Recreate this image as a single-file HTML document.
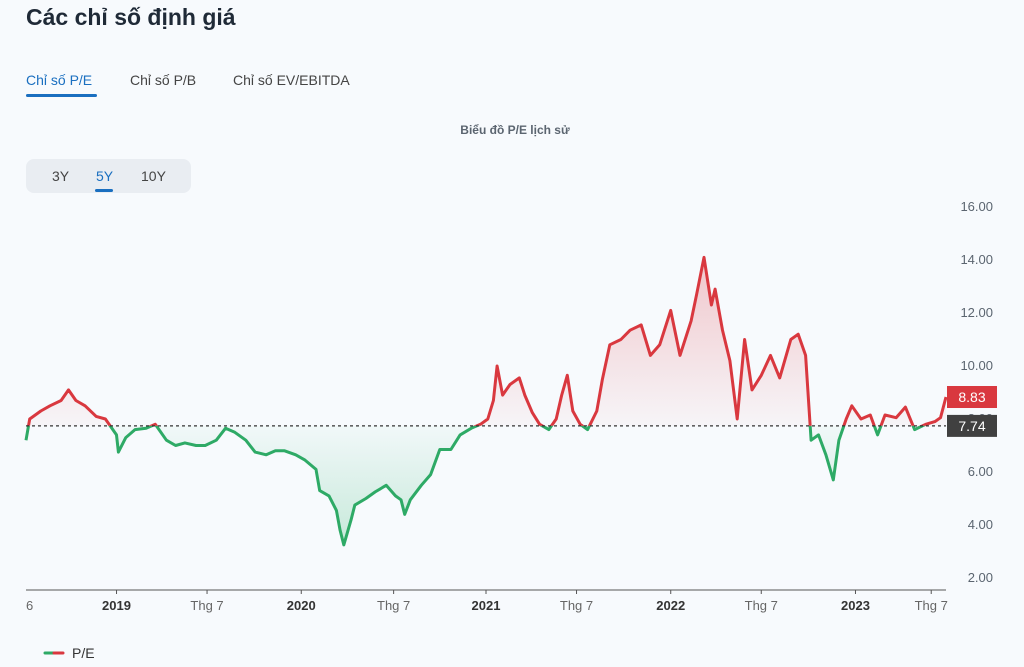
<!DOCTYPE html>
<html><head><meta charset="utf-8"><style>
body{margin:0;background:#f7fafd;font-family:"Liberation Sans","Noto Sans CJK SC",sans-serif;width:1024px;height:667px;overflow:hidden;position:relative}
.abs{position:absolute}
</style></head><body>
<div class="abs" style="left:26px;top:4px;font-size:23px;font-weight:bold;color:#1f2a37">Các chỉ số định giá</div>
<div class="abs" style="left:26px;top:72px;font-size:14px;color:#1a6fc0">Chỉ số P/E</div>
<div class="abs" style="left:26px;top:94px;width:71px;height:3px;border-radius:2px;background:#1a6fc0"></div>
<div class="abs" style="left:130px;top:72px;font-size:14px;color:#444">Chỉ số P/B</div>
<div class="abs" style="left:233px;top:72px;font-size:14px;color:#444">Chỉ số EV/EBITDA</div>
<div class="abs" style="left:0;width:1030px;text-align:center;top:123px;font-size:12px;font-weight:bold;color:#5b6570">Biểu đồ P/E lịch sử</div>
<div class="abs" style="left:26px;top:159px;width:165px;height:34px;border-radius:8px;background:#e9edf2"></div>
<div class="abs" style="left:52px;top:168px;font-size:14px;color:#444">3Y</div>
<div class="abs" style="left:96px;top:168px;font-size:14px;color:#1a6fc0">5Y</div>
<div class="abs" style="left:95px;top:189px;width:18px;height:3px;border-radius:2px;background:#1a6fc0"></div>
<div class="abs" style="left:141px;top:168px;font-size:14px;color:#444">10Y</div>
<svg class="abs" style="left:0;top:0" width="1024" height="667" id="chart"></svg>
<script>
const dates=[2018.51,2018.53,2018.59,2018.64,2018.70,2018.74,2018.78,2018.83,2018.89,2018.94,2019.00,2019.01,2019.05,2019.10,2019.16,2019.21,2019.27,2019.32,2019.37,2019.43,2019.48,2019.54,2019.59,2019.64,2019.70,2019.75,2019.81,2019.86,2019.91,2019.97,2020.02,2020.08,2020.10,2020.15,2020.19,2020.21,2020.23,2020.27,2020.29,2020.35,2020.40,2020.46,2020.51,2020.54,2020.56,2020.59,2020.65,2020.70,2020.75,2020.81,2020.86,2020.92,2020.97,2021.01,2021.04,2021.06,2021.09,2021.13,2021.18,2021.21,2021.25,2021.29,2021.34,2021.38,2021.41,2021.44,2021.47,2021.51,2021.55,2021.60,2021.63,2021.67,2021.73,2021.78,2021.84,2021.89,2021.94,2022.00,2022.05,2022.11,2022.14,2022.18,2022.22,2022.24,2022.28,2022.32,2022.36,2022.40,2022.44,2022.49,2022.54,2022.59,2022.65,2022.69,2022.73,2022.76,2022.80,2022.84,2022.88,2022.91,2022.95,2022.98,2023.03,2023.08,2023.12,2023.16,2023.22,2023.27,2023.32,2023.38,2023.43,2023.46,2023.49];
const peValues=[7.2,8.0,8.3,8.5,8.7,9.1,8.7,8.5,8.1,8.0,7.4,6.75,7.3,7.6,7.65,7.8,7.2,7.0,7.1,7.0,7.0,7.2,7.65,7.5,7.2,6.75,6.65,6.8,6.8,6.65,6.45,6.1,5.3,5.1,4.55,3.8,3.25,4.2,4.75,5.0,5.25,5.5,5.1,4.95,4.4,4.95,5.5,5.9,6.85,6.85,7.4,7.65,7.8,8.0,8.7,10.0,8.9,9.3,9.55,8.9,8.25,7.8,7.6,8.0,8.9,9.65,8.3,7.8,7.6,8.3,9.5,10.8,11.0,11.35,11.55,10.4,10.8,12.1,10.4,11.7,12.7,14.1,12.3,12.9,11.35,10.2,8.0,11.0,9.1,9.65,10.4,9.55,11.0,11.2,10.4,7.2,7.4,6.65,5.7,7.2,8.0,8.5,8.0,8.15,7.4,8.15,8.05,8.45,7.6,7.8,7.9,8.05,8.83];
const average=7.74;
const yTicks=[2,4,6,8,10,12,14,16];
const xTickDates=[2018.45,2019.0,2019.49,2020.0,2020.5,2021.0,2021.49,2022.0,2022.49,2023.0,2023.41];
const xTickLabels=["6","2019","Thg 7","2020","Thg 7","2021","Thg 7","2022","Thg 7","2023","Thg 7"];
const xTickBold=[false,true,false,true,false,true,false,true,false,true,false];

const svg=document.getElementById('chart');
const NS='http://www.w3.org/2000/svg';
const X0=26,X1=946,Y0=578,Y1=207;
const tMin=2018.51,tMax=2023.49;
const xs=t=>X0+(t-tMin)/(tMax-tMin)*(X1-X0);
const ys=v=>Y0-(v-2)/(16-2)*(Y0-Y1);
function mk(tag,attrs,parent){const e=document.createElementNS(NS,tag);for(const k in attrs)e.setAttribute(k,attrs[k]);(parent||svg).appendChild(e);return e;}
const avgY=ys(average);
const defs=mk('defs',{});
defs.innerHTML='<clipPath id="ca"><rect x="0" y="0" width="1024" height="'+avgY+'"/></clipPath><clipPath id="cb"><rect x="0" y="'+avgY+'" width="1024" height="667"/></clipPath>'+
'<linearGradient id="gr" x1="0" y1="'+ys(14)+'" x2="0" y2="'+avgY+'" gradientUnits="userSpaceOnUse"><stop offset="0" stop-color="#e0454d" stop-opacity="0.28"/><stop offset="1" stop-color="#e0454d" stop-opacity="0.03"/></linearGradient>'+
'<linearGradient id="gg" x1="0" y1="'+ys(3)+'" x2="0" y2="'+avgY+'" gradientUnits="userSpaceOnUse"><stop offset="0" stop-color="#2eb36b" stop-opacity="0.25"/><stop offset="1" stop-color="#2eb36b" stop-opacity="0.03"/></linearGradient>';
// y labels
yTicks.forEach(v=>{const t=mk('text',{x:993,y:ys(v)+4,'text-anchor':'end','font-size':13,fill:'#5b6570'});t.textContent=v.toFixed(2);

});
// x axis
const ax=mk('line',{x1:X0,x2:X1,y1:590,y2:590,stroke:'#555','stroke-width':1});


xTickDates.forEach((d,i)=>{const x=xs(d);
if(i>0)mk('line',{x1:x,x2:x,y1:590,y2:594,stroke:'#555'});
const t=mk('text',{x:i===0?26:x,y:610,'text-anchor':i===0?'start':'middle','font-size':13,fill:xTickBold[i]?'#333':'#666','font-weight':xTickBold[i]?'bold':'normal'});t.textContent=xTickLabels[i];

});
let pts=dates.map((d,i)=>xs(d).toFixed(1)+','+ys(peValues[i]).toFixed(1));
const area='M'+xs(dates[0])+','+avgY+' L'+pts.join(' L')+' L'+xs(dates[dates.length-1])+','+avgY+'Z';
const ar=mk('path',{d:area,fill:'url(#gr)','clip-path':'url(#ca)'});


const ag=mk('path',{d:area,fill:'url(#gg)','clip-path':'url(#cb)'});


const lineD='M'+pts.join(' L');
const lr=mk('path',{d:lineD,fill:'none',stroke:'#d9383f','stroke-width':3,'stroke-linejoin':'round','clip-path':'url(#ca)'});


const lg=mk('path',{d:lineD,fill:'none',stroke:'#2eaa66','stroke-width':3,'stroke-linejoin':'round','clip-path':'url(#cb)'});


const al=mk('line',{x1:X0,x2:X1,y1:avgY,y2:avgY,stroke:'#333','stroke-width':1.3,'stroke-dasharray':'3,3'});


// badges
const last=peValues[peValues.length-1];
const b1=mk('rect',{x:947,y:ys(last)-11,width:50,height:22,fill:'#d9383f'});


const t1=mk('text',{x:972,y:ys(last)+5,'text-anchor':'middle','font-size':14,fill:'#fff'});t1.textContent=last.toFixed(2);
const b2=mk('rect',{x:947,y:avgY-11,width:50,height:22,fill:'#404040'});


const t2=mk('text',{x:972,y:avgY+5,'text-anchor':'middle','font-size':14,fill:'#fff'});t2.textContent=average.toFixed(2);
// legend
mk('line',{x1:45,x2:54,y1:653,y2:653,stroke:'#2eaa66','stroke-width':3,'stroke-linecap':'round'});
mk('line',{x1:54,x2:63,y1:653,y2:653,stroke:'#d9383f','stroke-width':3,'stroke-linecap':'round'});
const lt=mk('text',{x:72,y:658,'font-size':14,fill:'#333'});lt.textContent='P/E';


</script>
</body></html>
